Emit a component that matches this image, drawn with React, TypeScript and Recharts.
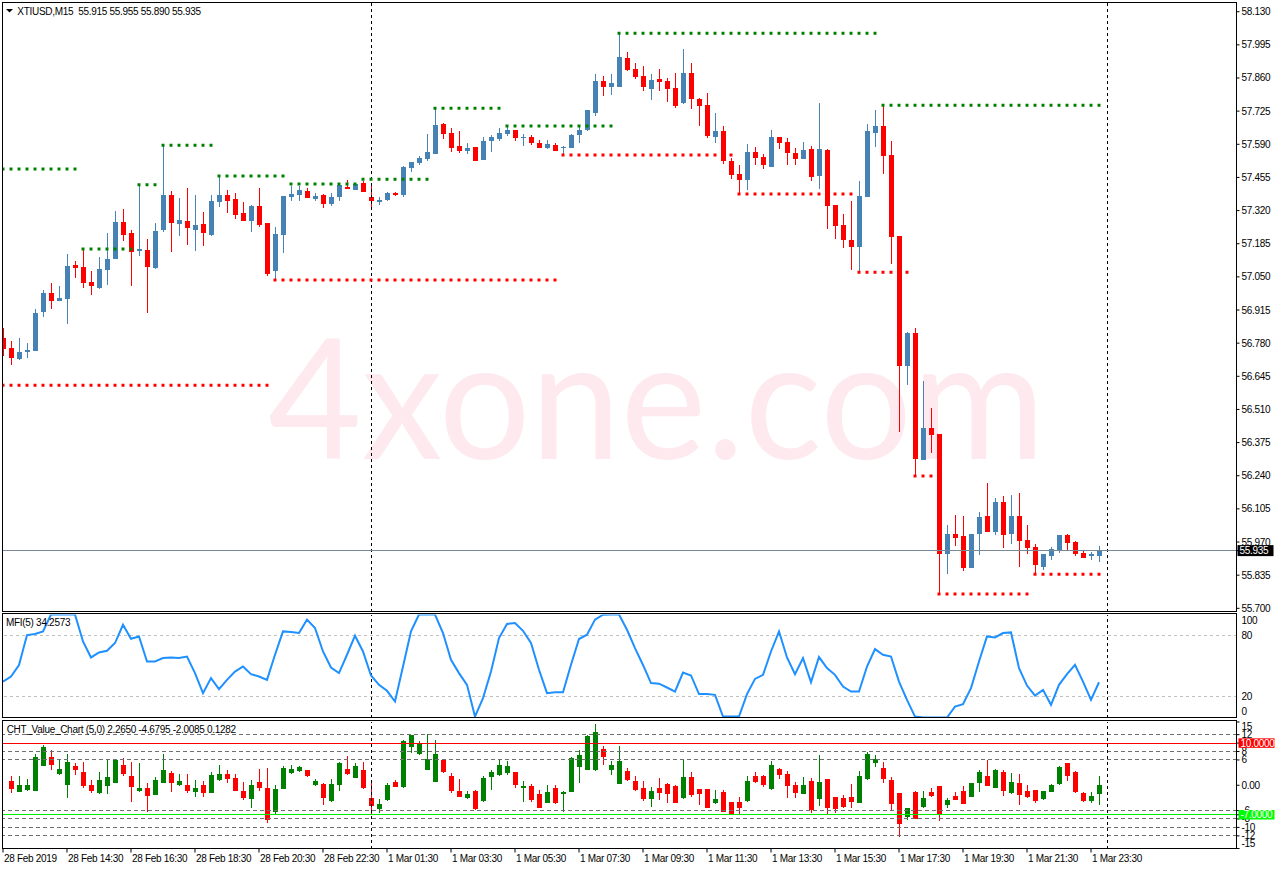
import React from 'react';
import { ComposedChart, Bar, Line, XAxis, YAxis, ReferenceLine } from 'recharts';

const FONT = '"Liberation Sans", Arial, sans-serif';
const W = 1276;
const H = 870;

// XTIUSD M15, bar 0 = 28 Feb 12:30, bar 137 = 1 Mar 23:45
const opens = [
  56.800, 56.760, 56.716, 56.742, 56.750, 56.905, 56.984, 56.950, 56.960, 57.099,
  57.091, 57.030, 57.006, 57.076, 57.121, 57.274, 57.229, 57.157, 57.160, 57.087,
  57.241, 57.384, 57.266, 57.278, 57.241, 57.266, 57.221, 57.353, 57.384, 57.368,
  57.312, 57.278, 57.339, 57.270, 57.072, 57.221, 57.376, 57.384, 57.400, 57.368,
  57.384, 57.347, 57.376, 57.417, 57.404, 57.433, 57.376, 57.356, 57.364, 57.392,
  57.384, 57.494, 57.514, 57.531, 57.551, 57.673, 57.636, 57.583, 57.563, 57.579,
  57.526, 57.604, 57.612, 57.632, 57.649, 57.616, 57.620, 57.596, 57.575, 57.588,
  57.573, 57.575, 57.628, 57.649, 57.718, 57.848, 57.824, 57.824, 57.942, 57.897,
  57.869, 57.816, 57.856, 57.848, 57.820, 57.759, 57.881, 57.775, 57.750, 57.620,
  57.645, 57.522, 57.470, 57.445, 57.559, 57.539, 57.498, 57.620, 57.600, 57.555,
  57.531, 57.571, 57.461, 57.567, 57.343, 57.262, 57.201, 57.172, 57.376, 57.636,
  57.665, 57.547, 57.217, 56.688, 56.822, 56.305, 56.435, 56.411, 55.922, 56.004,
  55.995, 55.865, 56.004, 56.077, 56.012, 56.134, 56.004, 56.077, 55.979, 55.951,
  55.869, 55.914, 55.938, 55.999, 55.971, 55.926, 55.914, 55.915,
];
const highs = [
  56.841, 56.789, 56.800, 56.781, 56.920, 56.997, 57.024, 57.013, 57.144, 57.115,
  57.160, 57.074, 57.131, 57.229, 57.319, 57.327, 57.239, 57.425, 57.205, 57.270,
  57.588, 57.400, 57.372, 57.412, 57.384, 57.315, 57.384, 57.461, 57.404, 57.392,
  57.356, 57.343, 57.412, 57.270, 57.254, 57.380, 57.421, 57.421, 57.412, 57.392,
  57.388, 57.392, 57.425, 57.445, 57.433, 57.441, 57.421, 57.376, 57.396, 57.396,
  57.502, 57.518, 57.544, 57.632, 57.734, 57.677, 57.657, 57.645, 57.596, 57.579,
  57.620, 57.628, 57.657, 57.661, 57.649, 57.632, 57.628, 57.608, 57.608, 57.596,
  57.583, 57.632, 57.665, 57.730, 57.877, 57.869, 57.877, 58.040, 57.966, 57.921,
  57.909, 57.877, 57.897, 57.860, 57.881, 57.978, 57.921, 57.779, 57.799, 57.718,
  57.665, 57.535, 57.506, 57.592, 57.579, 57.551, 57.649, 57.620, 57.616, 57.575,
  57.600, 57.583, 57.759, 57.571, 57.343, 57.307, 57.360, 57.441, 57.673, 57.730,
  57.750, 57.604, 57.217, 56.826, 56.842, 56.627, 56.517, 56.411, 56.040, 56.081,
  56.077, 56.004, 56.093, 56.211, 56.150, 56.158, 56.162, 56.170, 56.040, 55.963,
  55.922, 55.951, 55.999, 56.004, 55.975, 55.934, 55.930, 55.955,
];
const lows = [
  56.728, 56.689, 56.711, 56.721, 56.750, 56.888, 56.920, 56.950, 56.856, 57.047,
  57.006, 56.978, 57.002, 57.017, 57.121, 57.198, 57.011, 57.137, 56.902, 57.084,
  57.233, 57.152, 57.217, 57.180, 57.156, 57.176, 57.217, 57.335, 57.311, 57.286,
  57.278, 57.233, 57.254, 57.054, 57.038, 57.148, 57.357, 57.361, 57.372, 57.360,
  57.331, 57.339, 57.360, 57.406, 57.404, 57.396, 57.331, 57.343, 57.360, 57.380,
  57.376, 57.478, 57.506, 57.522, 57.551, 57.612, 57.559, 57.555, 57.551, 57.522,
  57.526, 57.559, 57.604, 57.624, 57.604, 57.583, 57.588, 57.575, 57.571, 57.563,
  57.547, 57.575, 57.596, 57.645, 57.706, 57.787, 57.791, 57.824, 57.889, 57.856,
  57.807, 57.771, 57.807, 57.763, 57.738, 57.755, 57.734, 57.665, 57.616, 57.596,
  57.510, 57.449, 57.388, 57.404, 57.506, 57.490, 57.498, 57.571, 57.506, 57.506,
  57.531, 57.441, 57.408, 57.246, 57.205, 57.168, 57.079, 57.074, 57.376, 57.579,
  57.470, 57.103, 56.419, 56.610, 56.236, 56.305, 56.333, 55.755, 55.841, 55.955,
  55.853, 55.865, 55.918, 56.012, 55.999, 55.947, 55.963, 55.869, 55.922, 55.841,
  55.857, 55.898, 55.926, 55.938, 55.914, 55.906, 55.898, 55.890,
];
const closes = [
  56.757, 56.721, 56.743, 56.753, 56.903, 56.984, 56.950, 56.963, 57.095, 57.088,
  57.023, 57.011, 57.083, 57.123, 57.274, 57.222, 57.153, 57.165, 57.091, 57.237,
  57.384, 57.270, 57.282, 57.250, 57.262, 57.229, 57.360, 57.384, 57.361, 57.303,
  57.278, 57.339, 57.262, 57.062, 57.225, 57.380, 57.388, 57.404, 57.372, 57.380,
  57.347, 57.376, 57.425, 57.406, 57.429, 57.396, 57.360, 57.364, 57.392, 57.384,
  57.498, 57.518, 57.535, 57.559, 57.669, 57.632, 57.575, 57.563, 57.575, 57.522,
  57.604, 57.620, 57.636, 57.649, 57.616, 57.620, 57.596, 57.575, 57.592, 57.563,
  57.577, 57.628, 57.649, 57.730, 57.848, 57.824, 57.840, 57.946, 57.893, 57.864,
  57.824, 57.852, 57.844, 57.816, 57.746, 57.881, 57.775, 57.746, 57.624, 57.645,
  57.522, 57.465, 57.445, 57.559, 57.535, 57.506, 57.620, 57.596, 57.555, 57.531,
  57.567, 57.457, 57.571, 57.339, 57.258, 57.201, 57.172, 57.380, 57.645, 57.665,
  57.543, 57.213, 56.688, 56.822, 56.309, 56.435, 56.407, 55.922, 56.004, 55.987,
  55.865, 56.004, 56.073, 56.012, 56.134, 55.999, 56.077, 55.975, 55.947, 55.877,
  55.922, 55.942, 55.999, 55.967, 55.922, 55.906, 55.922, 55.935,
];

// MFI(5)
const mfiValues = [
  34.9, 39.8, 51, 80, 81, 83.6, 100, 100, 100, 100,
  73.8, 58.3, 63.1, 64.8, 72.3, 90, 76.5, 78.7, 54.4, 54.4,
  57.7, 58.3, 57.7, 59.2, 43.1, 23.6, 38.2, 27.5, 36.6, 44.6,
  49.5, 42.1, 39.8, 36.6, 60.9, 83.6, 83, 82, 95, 86.9,
  64.1, 48.5, 43.1, 60.9, 79.4, 64.1, 40.8, 31.7, 25.9, 15.5,
  49.5, 83.6, 100, 100, 100, 82, 56, 43.1, 31.7, 0.9,
  18.8, 44.6, 77.1, 90.8, 91.7, 84.2, 72.3, 46.3, 23.6, 24.6,
  24.6, 51.2, 76.2, 80.4, 95, 99.8, 100, 100, 85.2, 67.4,
  51, 33.4, 32.8, 29.1, 25.2, 43.7, 40.8, 22.7, 22.7, 22,
  0.9, 0.9, 0.9, 22.7, 37.5, 41.4, 64.1, 83.6, 58.3, 42.1,
  57.7, 34.3, 58.7, 48, 41.4, 30.1, 25.2, 25.2, 49.5, 66.4,
  60.9, 59.2, 34.9, 17.1, 0.9, 0, 0, 0, 0, 10.6,
  12.9, 28.5, 54.4, 78.7, 77.7, 82, 82.6, 48, 31, 21.3,
  26.8, 12.3, 31.7, 42.1, 51.2, 34.9, 17.1, 34.2573,
];

// CHT_Value_Chart (5,0) candles, bar 0 not drawn
const chtOpens = [
  null, 1.12, -1.52, -1.12, -1.36, 4.64, 6.64, 2.72, 0.08, 4.48,
  3.2, 0.08, -1.92, -0.24, 0.48, 4.88, 2.24, -1.36, -0.56, -2.4,
  0.48, 2.88, 0, 0, -1.68, 0, -1.84, 1.28, 2.72, 1.76,
  -1.36, -3.36, 0.88, -0.72, -6.32, -0.8, 2.88, 3.28, 3.52, 0,
  0.32, -3.68, 0, 3.92, 1.68, 3.52, -3.12, -5.52, -3.52, 0.72,
  -0.48, 9.12, 7.36, 3.68, 0.72, 6.0, 2.08, -1.44, -2.96, -1.28,
  -3.76, 1.92, 2.48, 2.88, 3.12, -0.56, -0.16, -2.16, -4.16, -0.72,
  -2.08, -1.52, 4.32, 3.52, 3.68, 8.48, 3.52, 0.24, 3.44, 1.04,
  -0.72, -3.36, -0.72, 0.24, -0.16, -3.12, 1.92, -0.96, -0.96, -4.32,
  -1.52, -4.08, -4.08, -3.68, 2.08, 2.24, -0.96, 3.84, 2.72, 0.08,
  -2.08, 1.04, -3.36, 1.44, -2.88, -3.12, -2.88, -4.16, 1.44, 5.28,
  4.08, 1.28, -1.92, -7.52, -1.68, -5.12, -1.68, -0.16, -4.72, -2.56,
  -1.36, -2.72, 0.64, 2.24, -0.56, 3.12, -1.92, 0.48, -1.36, -1.12,
  -3.36, -1.52, 0.32, 5.28, 3.12, -1.92, -3.68, -2.0085,
];
const chtHighs = [
  null, 2.08, 2.08, 1.44, 7.44, 9.44, 8.32, 6.08, 7.44, 5.2,
  5.6, 1.28, 3.12, 5.92, 6.24, 6.4, 5.44, 5.28, 0.64, 1.92,
  7.36, 3.28, 2.72, 2.72, 1.28, 1.04, 3.04, 4.8, 3.52, 2.72,
  0.72, 1.28, 3.92, 4.08, 0, 4.48, 4.88, 4.64, 3.68, 1.6,
  0.48, 1.44, 5.52, 6.88, 5.2, 5.44, 0.96, -3.28, 0.48, 1.28,
  10.72, 11.84, 10.56, 12.16, 10.64, 6.0, 2.88, 1.44, -1.28, -1.12,
  2.24, 3.52, 6.32, 5.76, 3.12, 0.96, 0.32, -1.12, 0.08, 0.08,
  -1.36, 6.64, 8.32, 11.84, 14.48, 9.28, 5.68, 9.28, 4.08, 2.08,
  1.04, -0.32, 1.68, 0.48, 0.08, 5.92, 3.04, -0.88, -0.88, -1.12,
  -1.12, -4.08, -2.88, 2.24, 3.04, 2.48, 5.84, 4.08, 3.44, 0.88,
  1.84, 1.68, 7.28, 1.44, -2.88, -2.32, 0.32, 3.44, 7.84, 7.28,
  5.52, 1.92, -1.92, -5.28, -1.36, -1.36, -0.72, -0.16, -3.12, -1.52,
  -0.16, 0.64, 3.52, 6.08, 3.84, 3.52, 2.88, 2.72, 0.08, -1.12,
  -1.36, 0.32, 4.48, 5.28, 3.28, -1.52, -1.52, 2.265,
];
const chtLows = [
  null, -1.92, -1.6, -1.44, -1.36, 4.64, 3.68, 2.48, -2.96, 2.32,
  -0.56, -1.76, -2.08, -2.08, 0.48, 2.08, -4.0, -1.6, -6.32, -2.4,
  0.48, -1.52, -0.16, -1.92, -2.88, -2.88, -1.84, 1.12, 0.48, -1.44,
  -3.52, -5.28, -1.28, -8.96, -7.12, -0.8, 2.72, 3.12, 1.92, -0.16,
  -4.8, -4.0, -1.44, 2.48, 1.68, -0.88, -7.1, -6.56, -3.68, -0.32,
  -0.72, 7.68, 7.2, 3.52, 0.72, 2.88, -1.92, -2.88, -3.36, -5.76,
  -3.92, -1.12, 2.08, 2.48, -0.56, -3.92, -3.92, -5.36, -4.32, -4.48,
  -6.24, -1.52, 0.64, 3.52, 3.44, 4.88, 2.32, 0.24, 1.04, -1.36,
  -3.76, -5.12, -3.52, -4.32, -4.32, -3.28, -2.72, -4.72, -5.44, -4.56,
  -6.4, -7.04, -7.04, -3.92, 0.64, -0.32, -1.12, 1.52, -2.96, -2.96,
  -2.16, -6.56, -4.88, -7.04, -6.48, -5.36, -5.36, -4.16, 1.28, 4.24,
  0.48, -5.92, -12.32, -8.16, -8.08, -5.28, -2.72, -8.48, -5.28, -3.52,
  -4.48, -2.88, -1.52, -0.08, -0.56, -2.48, -2.08, -4.64, -3.12, -4.16,
  -3.52, -1.52, 0.08, 1.04, -1.76, -3.92, -4.32, -4.6795,
];
const chtCloses = [
  null, -0.96, 0, 0, 6.64, 9.04, 4.88, 3.84, 5.52, 3.52,
  -0.08, -1.28, 1.28, 1.92, 5.92, 2.72, -0.32, -0.56, -2.56, 1.28,
  3.52, 0.48, 0.96, -1.28, -0.64, -1.76, 2.48, 2.72, 1.6, -1.28,
  -3.04, 0.08, -0.64, -8.32, -0.8, 4.0, 3.84, 4.24, 2.08, 1.04,
  -3.04, 0.32, 5.28, 2.72, 4.48, -0.72, -4.96, -4.56, 0.08, -0.32,
  10.56, 11.84, 9.68, 6.32, 7.36, 3.12, -1.36, -2.72, -2.0, -5.52,
  1.68, 3.12, 4.88, 4.48, 0.08, -0.08, -3.52, -5.36, -1.68, -4.32,
  -1.52, 6.48, 7.28, 11.68, 12.64, 6.64, 4.72, 5.68, 1.28, -1.12,
  -3.36, -1.36, -1.76, -2.08, -4.16, 1.92, -2.32, -2.08, -5.28, -3.36,
  -6.24, -6.72, -5.44, 1.04, 0.88, 0.08, 4.72, 2.48, -0.16, -1.92,
  0.08, -5.92, 0.72, -5.28, -5.52, -5.12, -3.92, 2.08, 7.52, 6.24,
  1.44, -4.48, -9.28, -5.28, -7.92, -3.12, -2.56, -6.72, -3.52, -3.52,
  -4.48, 0.48, 3.12, -0.08, 3.68, -1.28, 0.72, -2.32, -2.88, -3.68,
  -1.36, 0.08, 4.32, 2.24, -1.52, -3.68, -2.56, 0.1282,
];

// support / resistance dotted levels: [from bar, to bar, price]
const resistanceLevels = [
  [0, 9, 57.489], [10, 16, 57.163], [17, 19, 57.425], [20, 26, 57.586],
  [27, 35, 57.461], [36, 44, 57.428], [45, 53, 57.448], [54, 62, 57.737],
  [63, 76, 57.664], [77, 109, 58.042], [110, 137, 57.749],
];
const supportLevels = [
  [0, 33, 56.609], [34, 69, 57.037], [70, 91, 57.546], [92, 106, 57.387],
  [107, 113, 57.069], [114, 116, 56.239], [117, 128, 55.758], [129, 137, 55.839],
];

const separatorBars = [46, 138];
const timeTickBars = [0, 8, 16, 24, 32, 40, 48, 56, 64, 72, 80, 88, 96, 104, 112, 120, 128, 136];
const timeTickLabels = [
  '28 Feb 2019', '28 Feb 14:30', '28 Feb 16:30', '28 Feb 18:30', '28 Feb 20:30', '28 Feb 22:30',
  '1 Mar 01:30', '1 Mar 03:30', '1 Mar 05:30', '1 Mar 07:30', '1 Mar 09:30', '1 Mar 11:30',
  '1 Mar 13:30', '1 Mar 15:30', '1 Mar 17:30', '1 Mar 19:30', '1 Mar 21:30', '1 Mar 23:30',
];
const priceTicks = [
  58.13, 57.995, 57.86, 57.725, 57.59, 57.455, 57.32, 57.185, 57.05, 56.915,
  56.78, 56.645, 56.51, 56.375, 56.24, 56.105, 55.97, 55.835, 55.7,
];
const mfiTicks = [100, 80, 20, 0];
const mfiLevels = [80, 20];
const chtTicks = [15, 12, 8, 6, 0, -6, -8, -10, -12, -15, 10, -7];
const chtDashLevels = [12, 8, 6, -6, -8, -10, -12];

const X_DOMAIN: [number, number] = [-0.125, 154.1875];
const PRICE_DOMAIN: [number, number] = [55.687, 58.1675];
const DOT_HALF = 0.1875;

const last = closes.length - 1;
const lastClose = closes[last];

const candles = opens.map((o, i) => ({ i, o, h: highs[i], l: lows[i], c: closes[i] }));
const mfiRows = mfiValues.map((v, i) => ({ i, mfi: v }));
const chtRows = chtOpens
  .map((o, i) => ({ i, o, h: chtHighs[i], l: chtLows[i], c: chtCloses[i] }))
  .filter((r) => r.o !== null);

const makeCandle = (upColor: string, downColor: string) => (props: any) => {
  const { x, y, width, height, payload } = props;
  if (!payload || x == null || y == null) return <g />;
  const { o, h, l, c } = payload;
  const top = Math.min(y, y + height);
  const bottom = Math.max(y, y + height);
  const span = h - l;
  const yOf = (v: number) => (span > 0 ? top + ((h - v) / span) * (bottom - top) : top);
  const color = c >= o ? upColor : downColor;
  const bodyTop = yOf(Math.max(o, c));
  const bodyBottom = yOf(Math.min(o, c));
  const cx = Math.round(x + width / 2) + 0.5;
  return (
    <g shapeRendering="crispEdges">
      <line x1={cx} x2={cx} y1={top} y2={bottom} stroke={color} strokeWidth={1} />
      <rect x={cx - 2.5} y={bodyTop} width={5} height={Math.max(1, bodyBottom - bodyTop)} fill={color} />
    </g>
  );
};

const priceCandle = makeCandle('#4682b4', '#ff0000');
const chtCandle = makeCandle('#008000', '#ff0000');

const tickText = { fontFamily: FONT, fontSize: 10, letterSpacing: -0.3, fill: '#000' };

const PriceTick = (props: any) => {
  const { x, y, payload } = props;
  const v = payload.value as number;
  if (v === lastClose) {
    return (
      <g>
        <rect x={x - 4} y={y - 5.5} width={36} height={11} fill="#000" />
        <text x={x - 2} y={y} dy="0.35em" {...tickText} fill="#fff">{v.toFixed(3)}</text>
      </g>
    );
  }
  return <text x={x} y={y} dy="0.35em" {...tickText}>{v.toFixed(3)}</text>;
};

const MfiTick = (props: any) => {
  const { x, y, payload } = props;
  const v = payload.value as number;
  const shift = v === 100 ? 6 : v === 0 ? -6.5 : 0;
  return <text x={x} y={y + shift} dy="0.35em" {...tickText}>{String(v)}</text>;
};

const ChtTick = (props: any) => {
  const { x, y, payload } = props;
  const v = payload.value as number;
  if (v === 10 || v === -7) {
    return (
      <g>
        <rect x={x - 3} y={y - 4.75} width={36} height={9.5} fill={v === 10 ? '#ff0000' : '#00ff00'} />
        <text x={x - 1} y={y} dy="0.35em" {...tickText} fill="#fff">{v.toFixed(4)}</text>
      </g>
    );
  }
  const shift = v === 15 ? 4.5 : v === -15 ? -5.5 : 0;
  const label = v === 0 ? '0.00' : String(v);
  return <text x={x} y={y + shift} dy="0.35em" {...tickText}>{label}</text>;
};

const TimeTick = (props: any) => {
  const { x, y, payload } = props;
  const k = timeTickBars.indexOf(payload.value);
  return <text x={x + 1} y={y} dy="0.75em" {...tickText}>{timeTickLabels[k]}</text>;
};

const layer: React.CSSProperties = { position: 'absolute', left: 0, top: 0 };

const separators = (prefix: string) =>
  separatorBars.map((b) => (
    <ReferenceLine key={`${prefix}${b}`} x={b} stroke="#000" strokeDasharray="3 3"
      shapeRendering="crispEdges" ifOverflow="hidden" />
  ));

export default function App() {
  return (
    <div style={{ position: 'absolute', left: 0, top: 0, width: W, height: H, background: '#fff', overflow: 'hidden', fontFamily: FONT }}>
      <svg width={W} height={H} style={layer}>
        <text x={268} y={459} fontSize={166} fontFamily="Lato, 'Liberation Sans', sans-serif" fontWeight={400}
          fill="#fde9ee" textLength={777} lengthAdjust="spacingAndGlyphs">4xone.com</text>
      </svg>

      <div style={layer}>
        <ComposedChart width={W} height={H} data={candles} margin={{ top: 2.5, bottom: H - 611.5, left: 2, right: 0 }}>
          <XAxis type="number" dataKey="i" domain={X_DOMAIN} allowDataOverflow hide />
          <YAxis orientation="right" type="number" domain={PRICE_DOMAIN} allowDataOverflow
            ticks={[...priceTicks, lastClose]} interval={0} width={39.5} tickSize={3} tickMargin={2}
            axisLine={false} tickLine={{ stroke: '#000' }} tick={PriceTick} />
          {separators('m')}
          <ReferenceLine y={lastClose} stroke="#778899" shapeRendering="crispEdges" ifOverflow="hidden" />
          <Bar dataKey={(d: any) => [d.l, d.h]} barSize={5} shape={priceCandle} isAnimationActive={false} />
          {resistanceLevels.map(([a, b, p], k) => (
            <ReferenceLine key={`res${k}`} segment={[{ x: a - DOT_HALF, y: p }, { x: b + DOT_HALF, y: p }]}
              stroke="#008000" strokeWidth={3} strokeDasharray="3 5" ifOverflow="hidden" />
          ))}
          {supportLevels.map(([a, b, p], k) => (
            <ReferenceLine key={`sup${k}`} segment={[{ x: a - DOT_HALF, y: p }, { x: b + DOT_HALF, y: p }]}
              stroke="#ff0000" strokeWidth={3} strokeDasharray="3 5" ifOverflow="hidden" />
          ))}
        </ComposedChart>
      </div>

      <div style={layer}>
        <ComposedChart width={W} height={H} data={mfiRows} margin={{ top: 614.5, bottom: H - 717.5, left: 2, right: 0 }}>
          <XAxis type="number" dataKey="i" domain={X_DOMAIN} allowDataOverflow hide />
          <YAxis orientation="right" type="number" domain={[0, 100]} allowDataOverflow
            ticks={mfiTicks} interval={0} width={39.5} tickSize={3} tickMargin={2}
            axisLine={false} tickLine={false} tick={MfiTick} />
          {mfiLevels.map((v) => (
            <ReferenceLine key={`mfi${v}`} y={v} stroke="#c0c0c0" strokeDasharray="3 3" shapeRendering="crispEdges" />
          ))}
          {separators('f')}
          <Line type="linear" dataKey="mfi" stroke="#1e90ff" strokeWidth={2} dot={false} isAnimationActive={false} />
        </ComposedChart>
      </div>

      <div style={layer}>
        <ComposedChart width={W} height={H} data={chtRows} margin={{ top: 722, bottom: 0, left: 2, right: 0 }}>
          <XAxis type="number" dataKey="i" domain={X_DOMAIN} allowDataOverflow ticks={timeTickBars} interval={0}
            height={21.5} tickSize={4} tickMargin={2} axisLine={false} tickLine={{ stroke: '#000' }} tick={TimeTick} />
          <YAxis orientation="right" type="number" domain={[-15, 15]} allowDataOverflow
            ticks={chtTicks} interval={0} width={39.5} tickSize={3} tickMargin={2}
            axisLine={false} tickLine={{ stroke: '#000' }} tick={ChtTick} />
          {chtDashLevels.map((v) => (
            <ReferenceLine key={`cht${v}`} y={v} stroke="#6e6e6e" strokeDasharray="4 3" shapeRendering="crispEdges" />
          ))}
          <ReferenceLine y={10} stroke="#ff0000" shapeRendering="crispEdges" />
          <ReferenceLine y={-7} stroke="#00ee00" shapeRendering="crispEdges" />
          {separators('c')}
          <Bar dataKey={(d: any) => [d.l, d.h]} barSize={5} shape={chtCandle} isAnimationActive={false} />
        </ComposedChart>
      </div>

      <svg width={W} height={H} style={{ ...layer, pointerEvents: 'none' }}>
        <g fill="none" stroke="#000" shapeRendering="crispEdges">
          <rect x={2.5} y={2.5} width={1234} height={609} />
          <rect x={2.5} y={613.5} width={1234} height={104} />
          <rect x={2.5} y={720.5} width={1234} height={128} />
        </g>
        <polygon points="6,9 13,9 9.5,12.5" fill="#000" />
        <text x={17.3} y={14.6} {...tickText}>
          {`XTIUSD,M15\u00a0\u00a0${opens[last].toFixed(3)} ${highs[last].toFixed(3)} ${lows[last].toFixed(3)} ${closes[last].toFixed(3)}`}
        </text>
        <text x={6} y={626} {...tickText}>{`MFI(5) ${mfiValues[last].toFixed(4)}`}</text>
        <text x={6.7} y={733.3} {...tickText}>
          {`CHT_Value_Chart (5,0) ${(chtHighs[last] as number).toFixed(4)} ${(chtLows[last] as number).toFixed(4)} ${(chtOpens[last] as number).toFixed(4)} ${(chtCloses[last] as number).toFixed(4)}`}
        </text>
      </svg>
    </div>
  );
}
